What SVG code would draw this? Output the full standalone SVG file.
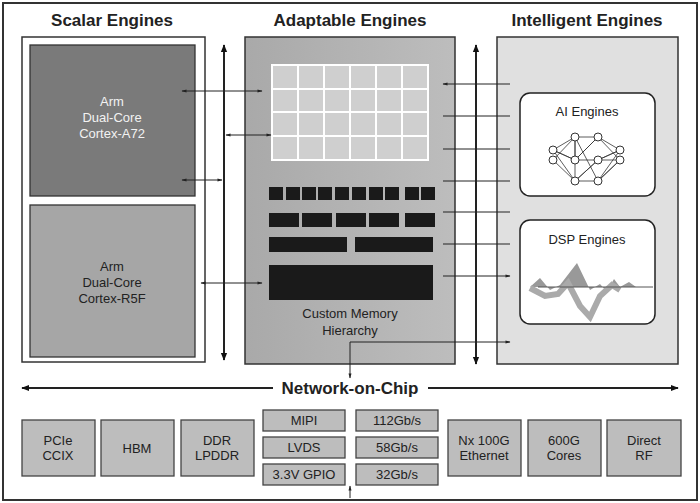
<svg xmlns="http://www.w3.org/2000/svg" width="700" height="503" viewBox="0 0 700 503">
<defs>
<marker id="ah" viewBox="0 0 10 10" refX="9" refY="5" markerWidth="7" markerHeight="5" orient="auto-start-reverse"><path d="M0,2 L10,5 L0,8 z" fill="#222"/></marker>
<marker id="big" viewBox="0 0 10 10" refX="9" refY="5" markerWidth="4" markerHeight="4" orient="auto-start-reverse"><path d="M0,1 L10,5 L0,9 z" fill="#111"/></marker>
<linearGradient id="ad" x1="0" x2="1"><stop offset="0" stop-color="#a9a9a9"/><stop offset="1" stop-color="#bdbdbd"/></linearGradient>
</defs>
<style>
text{font-family:"Liberation Sans",Arial,sans-serif;fill:#222;text-anchor:middle}
.h{font-size:17px;font-weight:bold}
.t{font-size:13px}
.w{fill:#f2f2f2;font-size:13px}
.io{fill:#bdbdbd;stroke:#444;stroke-width:1.3}
.b{fill:#1a1a1a}
.c{stroke:#222;stroke-width:1}
</style>
<rect x="0" y="0" width="700" height="503" fill="#fff"/>
<rect x="3" y="3" width="694" height="497" fill="#fff" stroke="#333" stroke-width="2"/>
<text class="h" x="112" y="26">Scalar Engines</text>
<text class="h" x="350" y="26">Adaptable Engines</text>
<text class="h" x="587" y="26">Intelligent Engines</text>
<g id="scalar">
<rect x="22" y="37" width="183" height="325" fill="#fff" stroke="#333" stroke-width="1.5"/>
<g id="a72"><rect x="30" y="45" width="165" height="151" fill="#7a7a7a" stroke="#333" stroke-width="1.3"/>
<text class="w" x="112" y="106">Arm</text><text class="w" x="112" y="122">Dual-Core</text><text class="w" x="112" y="138">Cortex-A72</text></g>
<g id="r5f"><rect x="30" y="205" width="165" height="152" fill="#a6a6a6" stroke="#333" stroke-width="1.3"/>
<text class="t" x="112" y="271">Arm</text><text class="t" x="112" y="287">Dual-Core</text><text class="t" x="112" y="303">Cortex-R5F</text></g>
</g>
<g id="adaptable">
<rect x="245" y="37" width="210" height="327" fill="url(#ad)" stroke="#333" stroke-width="1.5"/>
<rect x="272" y="65" width="156" height="95" fill="#cfcfcf" stroke="#fff" stroke-width="2"/>
<path d="M298,65V160M324,65V160M350,65V160M376,65V160M402,65V160M272,89H428M272,112H428M272,136H428" stroke="#fff" stroke-width="2"/>
<g class="b">
<rect x="269" y="187" width="14" height="13"/><rect x="286" y="187" width="14" height="13"/><rect x="302" y="187" width="14" height="13"/><rect x="318" y="187" width="14" height="13"/><rect x="335" y="187" width="14" height="13"/><rect x="352" y="187" width="14" height="13"/><rect x="369" y="187" width="14" height="13"/><rect x="385" y="187" width="14" height="13"/><rect x="405" y="187" width="14" height="13"/><rect x="421" y="187" width="14" height="13"/>
<rect x="269" y="213" width="30" height="14"/><rect x="302" y="213" width="30" height="14"/><rect x="336" y="213" width="30" height="14"/><rect x="369" y="213" width="30" height="14"/><rect x="405" y="213" width="30" height="14"/>
<rect x="269" y="237" width="78" height="15"/><rect x="355" y="237" width="78" height="15"/>
<rect x="269" y="265" width="164" height="35"/>
</g>
<text class="t" x="350" y="318">Custom Memory</text><text class="t" x="350" y="335">Hierarchy</text>
</g>
<g id="intelligent">
<rect x="497" y="37" width="181" height="327" fill="#e0e0e0" stroke="#333" stroke-width="1.5"/>
<g id="ai"><rect x="520" y="93" width="135" height="103" rx="10" fill="#fff" stroke="#222" stroke-width="1.5"/>
<text class="t" x="587" y="116">AI Engines</text>
<g stroke="#333" stroke-width="0.8" fill="none">
<path d="M553,150L575,137L575,160L553,150L575,181M553,160L575,137L575,160L575,181L553,160M575,137L598,137L575,160L598,160L575,181L598,181L575,137M598,137L620,150L598,160L620,160L598,181L620,150M598,137L620,160M598,181L620,160M575,160L598,137M575,181L598,160M553,150L575,160M598,160L620,150"/>
</g>
<g fill="#fff" stroke="#333" stroke-width="1"><circle cx="553" cy="150" r="4"/><circle cx="553" cy="160" r="4"/><circle cx="575" cy="137" r="4"/><circle cx="575" cy="160" r="4"/><circle cx="575" cy="181" r="4"/><circle cx="598" cy="137" r="4"/><circle cx="598" cy="160" r="4"/><circle cx="598" cy="181" r="4"/><circle cx="620" cy="150" r="4"/><circle cx="620" cy="160" r="4"/></g>
</g>
<g id="dsp"><rect x="520" y="220" width="135" height="104" rx="10" fill="#fff" stroke="#222" stroke-width="1.5"/>
<text class="t" x="587" y="244">DSP Engines</text>
<path d="M530,287L540,278L550,290L560,285L577,263L590,290L600,284L607,292L614,279L620,287L629,282L636,287Z" fill="#999"/>
<path d="M530,288L545,296L558,294L568,283L580,306L590,317L600,296L612,285L620,290" fill="none" stroke="#aaa" stroke-width="6"/>
<path d="M538,287H653" stroke="#555" stroke-width="1"/>
</g>
</g>
<g id="connectors" class="c" fill="none">
<path d="M224,360V45" stroke-width="2" marker-end="url(#big)" marker-start="url(#big)"/>
<path d="M476,364V45" stroke-width="2" marker-end="url(#big)" marker-start="url(#big)"/>
<path d="M182,91H262" marker-start="url(#ah)" marker-end="url(#ah)"/>
<path d="M226,135H271" marker-start="url(#ah)" marker-end="url(#ah)"/>
<path d="M182,180H222" marker-start="url(#ah)" marker-end="url(#ah)"/>
<path d="M443,84H510M443,116H510M443,149H510M443,181H510M443,212H510M443,244H510M443,276H510" marker-start="url(#ah)" marker-end="url(#ah)"/>
<path d="M201,283H262" marker-start="url(#ah)" marker-end="url(#ah)"/>
<path d="M350,378V342H510" marker-start="url(#ah)" marker-end="url(#ah)"/>
<path d="M22,388H273M428,388H678" stroke-width="2" marker-start="url(#big)" marker-end="url(#big)"/>
<path d="M350,498V486" marker-end="url(#ah)"/>
</g>
<text class="h" x="350" y="394">Network-on-Chip</text>
<g id="io">
<g id="pcie"><rect class="io" x="22" y="420" width="73" height="56"/><text class="t" x="58" y="445">PCIe</text><text class="t" x="58" y="460">CCIX</text></g>
<g id="hbm"><rect class="io" x="101" y="420" width="73" height="56"/><text class="t" x="137" y="453">HBM</text></g>
<g id="ddr"><rect class="io" x="181" y="420" width="73" height="56"/><text class="t" x="217" y="445">DDR</text><text class="t" x="217" y="460">LPDDR</text></g>
<g id="mipi"><rect class="io" x="263" y="410" width="82" height="21"/><text class="t" x="304" y="425">MIPI</text></g>
<g id="lvds"><rect class="io" x="263" y="437" width="82" height="21"/><text class="t" x="304" y="452">LVDS</text></g>
<g id="gpio"><rect class="io" x="263" y="464" width="82" height="21"/><text class="t" x="304" y="479">3.3V GPIO</text></g>
<g id="g112"><rect class="io" x="356" y="410" width="82" height="21"/><text class="t" x="397" y="425">112Gb/s</text></g>
<g id="g58"><rect class="io" x="356" y="437" width="82" height="21"/><text class="t" x="397" y="452">58Gb/s</text></g>
<g id="g32"><rect class="io" x="356" y="464" width="82" height="21"/><text class="t" x="397" y="479">32Gb/s</text></g>
<g id="eth"><rect class="io" x="448" y="420" width="73" height="56"/><text class="t" x="484" y="445">Nx 100G</text><text class="t" x="484" y="460">Ethernet</text></g>
<g id="g600"><rect class="io" x="528" y="420" width="73" height="56"/><text class="t" x="564" y="445">600G</text><text class="t" x="564" y="460">Cores</text></g>
<g id="rf"><rect class="io" x="607" y="420" width="74" height="56"/><text class="t" x="644" y="445">Direct</text><text class="t" x="644" y="460">RF</text></g>
</g>
</svg>
